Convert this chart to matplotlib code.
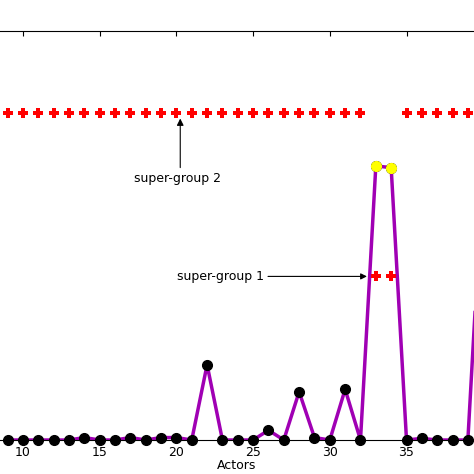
import matplotlib.pyplot as plt

# actors visible in the crop
actors = list(range(9, 41))
scores = [0, 0, 0, 0, 0, 0.003, 0, 0, 0.003, 0, 0.003, 0.003, 0, 0.092, 0, 0, 0,
          0.012, 0, 0.059, 0.003, 0, 0.062, 0, 0.335, 0.333, 0, 0.002, 0, 0, 0, 0.335]
group2_x = list(range(9, 33)) + list(range(35, 41))
group2_y = 0.40
group1_x = [33, 34]
group1_y = 0.20
leaders_x = [33, 34]
leaders_y = [0.335, 0.333]

fig = plt.figure(figsize=(4.74, 4.74), dpi=100)
ax = fig.add_axes([0, 0.0717, 1, 0.8629])
ax.set_xlim(8.5, 39.4)
ax.set_ylim(0, 0.5)

ax.plot(actors, scores, color="#a000b4", lw=2.5, zorder=2)
ax.plot(actors, scores, "o", color="black", ms=7, zorder=3, clip_on=False)
ax.plot(leaders_x, leaders_y, "o", color="yellow", ms=7, zorder=4)
ax.plot(group2_x, [group2_y] * len(group2_x), "P", color="red", ms=7, mew=0, zorder=3)
ax.plot(group1_x, [group1_y] * len(group1_x), "P", color="red", ms=7, mew=0, zorder=3)

ax.annotate("super-group 2", xy=(20.25, 0.393), xytext=(20.1, 0.32),
            ha="center", va="center", fontsize=9)
ax.annotate("", xy=(20.25, 0.393), xytext=(20.25, 0.333),
            arrowprops=dict(arrowstyle="-|>", color="black", lw=0.8,
                            shrinkA=0, shrinkB=0))
ax.annotate("super-group 1", xy=(32.6, group1_y), xytext=(25.7, group1_y),
            ha="right", va="center", fontsize=9,
            arrowprops=dict(arrowstyle="-|>", color="black", lw=0.8, shrinkA=1))

ax.set_xticks([10, 15, 20, 25, 30, 35])
ax.set_yticks([])
ax.tick_params(axis="x", direction="in", top=True, labelsize=9, pad=4)
for s in ["left", "right"]:
    ax.spines[s].set_visible(False)
ax.set_xlabel("Actors", fontsize=9, labelpad=0)

fig.savefig("out.png", dpi=100)
